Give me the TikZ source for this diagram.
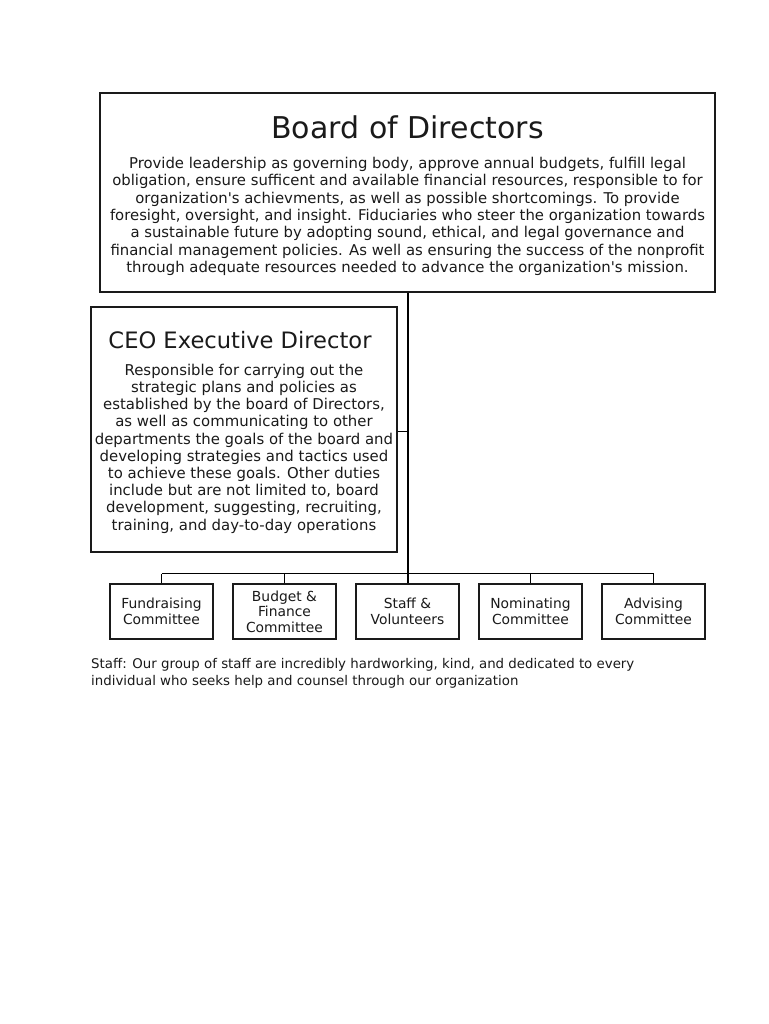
\documentclass[tikz,border=0pt]{standalone}
\usepackage{fontspec}
\setmainfont{DejaVu Sans}
\newfontfamily\dv{DejaVu Sans}
\definecolor{ink}{HTML}{1A1A1A}
\begin{document}
\begin{tikzpicture}[x=1pt,y=-1pt,
  box/.style={draw=ink,line width=1.3pt,inner sep=0pt},
  txt/.style={text=ink,inner sep=0pt,align=center},
  wire/.style={draw=black,line width=1pt},
  trunk/.style={draw=black,line width=2pt},
  small/.style={box,minimum width=103pt,minimum height=55pt,font=\dv\fontsize{13.85}{15.5}\selectfont,text=ink,align=center}]
\useasboundingbox[fill=white] (0,0) rectangle (768,1024);
% Board
\node[box,minimum width=615pt,minimum height=199pt] (board) at (407.5,192.5) {};
\node[txt,font=\dv\fontsize{30}{32}\selectfont] (boardt) at (407.5,127) {Board of Directors};
\node[txt,font=\dv\fontsize{14.85}{17.4}\selectfont] (boardb) at (407.5,216.5) {Provide leadership as governing body, approve annual budgets, fulfill legal\\obligation, ensure sufficent and available financial resources, responsible to for\\organization's achievments, as well as possible shortcomings. To provide\\foresight, oversight, and insight. Fiduciaries who steer the organization towards\\a sustainable future by adopting sound, ethical, and legal governance and\\financial management policies. As well as ensuring the success of the nonprofit\\through adequate resources needed to advance the organization's mission.};
% CEO
\node[box,minimum width=306pt,minimum height=245pt] (ceo) at (244,429.5) {};
\node[txt,font=\dv\fontsize{22.6}{26}\selectfont] (ceot) at (240,340) {CEO Executive Director};
\node[txt,font=\dv\fontsize{14.9}{17.2}\selectfont] (ceob) at (244,448.5) {Responsible for carrying out the\\strategic plans and policies as\\established by the board of Directors,\\as well as communicating to other\\departments the goals of the board and\\developing strategies and tactics used\\to achieve these goals. Other duties\\include but are not limited to, board\\development, suggesting, recruiting,\\training, and day-to-day operations};
% committees
\node[small] (c1) at (161.5,611.5) {Fundraising\\Committee};
\node[small] (c2) at (284.5,611.5) {Budget \&\\Finance\\Committee};
\node[small] (c3) at (407.5,611.5) {Staff \&\\Volunteers};
\node[small] (c4) at (530.5,611.5) {Nominating\\Committee};
\node[small] (c5) at (653.5,611.5) {Advising\\Committee};
\coordinate (bus) at (407.5,573.5);
\coordinate (bl) at (161.5,573.5);
\coordinate (br) at (653.5,573.5);
\draw[trunk] (board.south) -- (bus);
\draw[wire] ([yshift=-1.5pt]ceo.east) -- ([yshift=-1.5pt]ceo.east -| bus);
\draw[wire] (bl) -- (br);
\foreach \c in {c1,c2,c4,c5} \draw[wire] (\c.north) -- (\c.north |- bus);
\draw[trunk] (bus) -- (c3.north);
% staff note
\node[txt,align=left,anchor=west,font=\dv\fontsize{13.35}{17}\selectfont] (note) at (91,673.5) {Staff: Our group of staff are incredibly hardworking, kind, and dedicated to every\\individual who seeks help and counsel through our organization};
\end{tikzpicture}
\end{document}
